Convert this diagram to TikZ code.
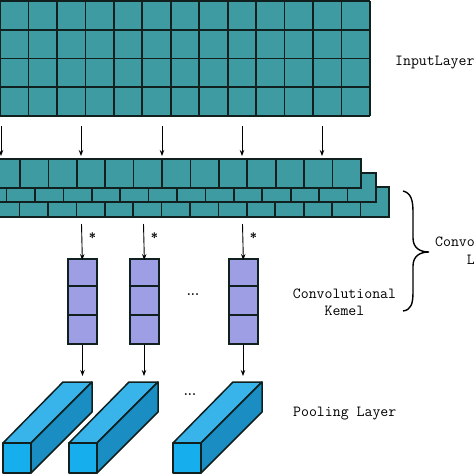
\documentclass[tikz,border=0pt]{standalone}
\usepackage{fontspec}
\usetikzlibrary{arrows.meta}
\definecolor{tealc}{HTML}{3F9BA2}
\definecolor{lavc}{HTML}{9E9EE4}
\definecolor{cubetop}{HTML}{38B4EA}
\definecolor{cubeside}{HTML}{1A8DC2}
\definecolor{cubefront}{HTML}{16AEEC}
\definecolor{linec}{HTML}{10201F}
\newcommand\poolcube[1]{%
  \draw[cubeline,fill=cubetop] (#1,443) -- (#1+28,443) -- (#1+89,382) -- (#1+60,382) -- cycle;
  \draw[cubeline,fill=cubeside] (#1+28,443) -- (#1+89,382) -- (#1+89,412) -- (#1+28,473) -- cycle;
  \draw[cubeline,fill=cubefront] (#1,443) rectangle (#1+28,473);
}
\begin{document}
\begin{tikzpicture}[x=1pt,y=-1pt,
  gridline/.style={line width=1.7pt,draw=linec},
  cubeline/.style={line width=1.5pt,draw=linec,line join=round},
  arr/.style={line width=0.9pt,-{Stealth[length=6pt,width=4.5pt]}},
  lbl/.style={font=\fontsize{15.4}{19}\ttfamily,inner sep=0pt,align=center},
  star/.style={font=\fontsize{13}{14}\sffamily\bfseries,inner sep=0pt},
  dots/.style={font=\fontsize{13}{14}\bfseries,inner sep=0pt}]
\useasboundingbox (0,0) rectangle (474,474);
\clip (0,0) rectangle (474,474);
% input layer
\fill[tealc] (0,1) rectangle (370,116);
\foreach \i in {0,...,13} \draw[gridline] ({\i*370/13},1) -- ({\i*370/13},116);
\foreach \j in {0,...,4} \draw[gridline] (0,{1+\j*115/4}) -- (370,{1+\j*115/4});
\node[lbl,anchor=west] (inp) at (395,63) {InputLayer};
% convolution layers (back to front)
\fill[tealc] (-30,187) rectangle (389,217);
\draw[gridline] (-30,187) rectangle (389,217);
\foreach \k in {1,...,15} \draw[gridline] ({389-\k*28.42},187) -- ({389-\k*28.42},217);
\fill[tealc] (-30,173) rectangle (376,202);
\draw[gridline] (-30,173) rectangle (376,202);
\foreach \k in {1,...,15} \draw[gridline] ({376-\k*28.42},173) -- ({376-\k*28.42},202);
\fill[tealc] (-30,159) rectangle (361,188);
\draw[gridline] (-30,159) rectangle (361,188);
\foreach \k in {1,...,15} \draw[gridline] ({361-\k*28.42},159) -- ({361-\k*28.42},188);
% arrows from input
\foreach \n/\x in {1/1,2/81,3/162,4/242,5/322} {
  \coordinate (ia\n) at (\x,126);
  \coordinate (ib\n) at (\x,156);
  \draw[arr] (ia\n) -- (ib\n);
}
% kernels
\foreach \n/\x in {1/67,2/129,3/228} {
  \node[draw=linec,line width=1.7pt,fill=lavc,minimum width=29pt,minimum height=85pt,inner sep=0pt,anchor=north west] (k\n) at (\x,258) {};
  \draw[gridline] (\x,286.3) -- (\x+29,286.3);
  \draw[gridline] (\x,314.7) -- (\x+29,314.7);
}
\foreach \n/\x in {1/81.5,2/143.5,3/242.5} {
  \coordinate (ka\n) at (\x,224);
  \draw[arr] (ka\n) -- ([yshift=-2pt]k\n.north);
  \node[star] (s\n) at (\x+11,238) {*};
}
\node[dots] (d1) at (193,295) {...};
\node[lbl] (kern) at (344.5,302) {Convolutional\\[-2pt]Kemel};
% brace
\draw[line width=1.4pt] (403,191) .. controls (411,193) and (413,200) .. (413,212) -- (413,238)
  .. controls (413,248) and (420,252) .. (429,252) .. controls (420,252) and (413,256) .. (413,266)
  -- (413,292) .. controls (413,304) and (411,310) .. (403,311);
\node[lbl,anchor=west] (cl) at (435,252) {Convolutional\\[-1pt]Layer};
% pooling
\poolcube{3}
\poolcube{69}
\poolcube{173}
\foreach \n/\x in {1/82.5,2/144,3/243} {
  \coordinate (pa\n) at (\x,345);
  \coordinate (pb\n) at (\x,376);
  \draw[arr] (pa\n) -- (pb\n);
}
\node[dots] (d2) at (190,395) {...};
\node[lbl,anchor=west] (pool) at (293,414) {Pooling Layer};
\end{tikzpicture}
\end{document}
